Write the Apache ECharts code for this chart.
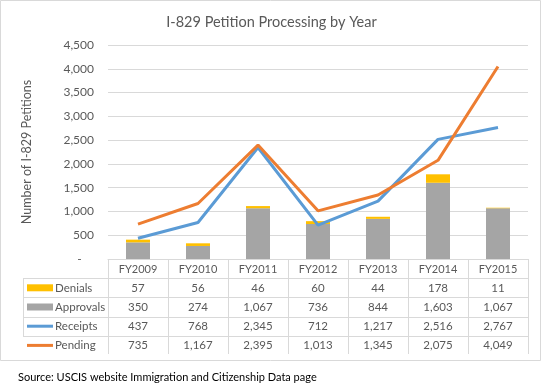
<!DOCTYPE html>
<html><head><meta charset="utf-8">
<script src="https://cdn.jsdelivr.net/npm/echarts@6/dist/echarts.min.js"></script>
<style>html,body{margin:0;padding:0;background:#fff}#c{width:543px;height:389px}</style>
</head><body><div id="c"></div>
<script>
const categories = ['FY2009','FY2010','FY2011','FY2012','FY2013','FY2014','FY2015'];
const denials   = [57, 56, 46, 60, 44, 178, 11];
const approvals = [350, 274, 1067, 736, 844, 1603, 1067];
const receipts  = [437, 768, 2345, 712, 1217, 2516, 2767];
const pending   = [735, 1167, 2395, 1013, 1345, 2075, 4049];
const rowNames  = ['Denials', 'Approvals', 'Receipts', 'Pending'];
const titleText = 'I-829 Petition Processing by Year';
const yAxisName = 'Number of I-829 Petitions';
const sourceText = 'Source: USCIS website Immigration and Citizenship Data page';

const FONT = 'Lato, "Liberation Sans", sans-serif';
const TXT = '#595959';
const LINEC = '#D9D9D9';
const COLORS = {Denials:'#FFC000', Approvals:'#A5A5A5', Receipts:'#5B9BD5', Pending:'#ED7D31'};
const fmt = v => v.toLocaleString('en-US');

const chart = echarts.init(document.getElementById('c'), null, {renderer:'canvas'});
chart.setOption({
  animation: false,
  backgroundColor: '#fff',
  title: {text: titleText, left: 'center', top: 10,
    textStyle: {fontFamily: FONT, fontSize: 14.5, fontWeight: 'normal', color: TXT}},
  grid: {left: 108, right: 15, top: 45, bottom: 130, containLabel: false, outerBoundsMode: 'none'},
  xAxis: {type: 'category', data: categories, boundaryGap: true,
    axisLine: {lineStyle: {color: LINEC}},
    axisTick: {show: true, length: 95, lineStyle: {color: LINEC}},
    axisLabel: {margin: 5, fontFamily: FONT, fontSize: 11, color: TXT},
    splitLine: {show: false}},
  yAxis: {type: 'value', min: 0, max: 4500, interval: 500,
    name: yAxisName, nameLocation: 'middle', nameGap: 75,
    nameTextStyle: {fontFamily: FONT, fontSize: 12.5, color: TXT},
    axisLine: {show: false}, axisTick: {show: false},
    splitLine: {lineStyle: {color: LINEC}},
    axisLabel: {margin: 14, fontFamily: FONT, fontSize: 12, color: TXT,
      formatter: v => v === 0 ? '-    ' : fmt(v)}},
  series: [
    {name: 'Approvals', type: 'bar', stack: 's', data: approvals, barWidth: 24,
      itemStyle: {color: COLORS.Approvals}},
    {name: 'Denials', type: 'bar', stack: 's', data: denials, barWidth: 24,
      itemStyle: {color: COLORS.Denials}},
    {name: 'Receipts', type: 'line', data: receipts, symbol: 'none', z: 5,
      lineStyle: {color: COLORS.Receipts, width: 3}},
    {name: 'Pending', type: 'line', data: pending, symbol: 'none', z: 6,
      lineStyle: {color: COLORS.Pending, width: 3}}
  ]
});

// Data table below the axis, placed from the axis scale
const cx = categories.map((c, i) => chart.convertToPixel({xAxisIndex: 0}, i));
const band = cx[1] - cx[0];
const xL = Math.round(cx[0] - band / 2), xR = Math.round(cx[cx.length - 1] + band / 2);
const y0 = Math.round(chart.convertToPixel({yAxisIndex: 0}, 0));
const rowH = 19.2;
const tableLeft = 23;
const rowsData = [denials, approvals, receipts, pending];
const g = [];
const hline = (x1, x2, y) => g.push({type: 'line', silent: true,
  shape: {x1: x1, y1: Math.round(y) + 0.5, x2: x2, y2: Math.round(y) + 0.5},
  style: {stroke: LINEC, lineWidth: 1}});
for (let r = 1; r <= 4; r++) hline(tableLeft, xR, y0 + rowH * r);
g.push({type: 'line', silent: true,
  shape: {x1: tableLeft + 0.5, y1: Math.round(y0 + rowH) + 0.5, x2: tableLeft + 0.5, y2: Math.round(y0 + rowH * 4) + 0.5},
  style: {stroke: LINEC, lineWidth: 1}});
rowNames.forEach((name, r) => {
  const yc = y0 + rowH * (r + 1.5);
  if (r < 2) {
    g.push({type: 'rect', silent: true, shape: {x: 27, y: yc - 3.5, width: 26, height: 7},
      style: {fill: COLORS[name]}});
  } else {
    g.push({type: 'line', silent: true, shape: {x1: 27, y1: yc, x2: 53, y2: yc},
      style: {stroke: COLORS[name], lineWidth: 3}});
  }
  g.push({type: 'text', silent: true, style: {text: name, x: 55, y: yc,
    align: 'left', verticalAlign: 'middle', fill: TXT, fontSize: 11.5, fontFamily: FONT}});
  rowsData[r].forEach((v, i) => {
    g.push({type: 'text', silent: true, style: {text: fmt(v), x: cx[i], y: yc,
      align: 'center', verticalAlign: 'middle', fill: TXT, fontSize: 11.5, fontFamily: FONT}});
  });
});
// outer chart border
g.push({type: 'rect', silent: true, shape: {x: 0.5, y: 0.5, width: 540, height: 360},
  style: {fill: null, stroke: LINEC, lineWidth: 1}});
g.push({type: 'text', silent: true, style: {text: sourceText, x: 18, y: 377,
  align: 'left', verticalAlign: 'middle', fill: '#000', fontSize: 11, fontFamily: FONT}});
chart.setOption({graphic: g});
</script>
</body></html>
